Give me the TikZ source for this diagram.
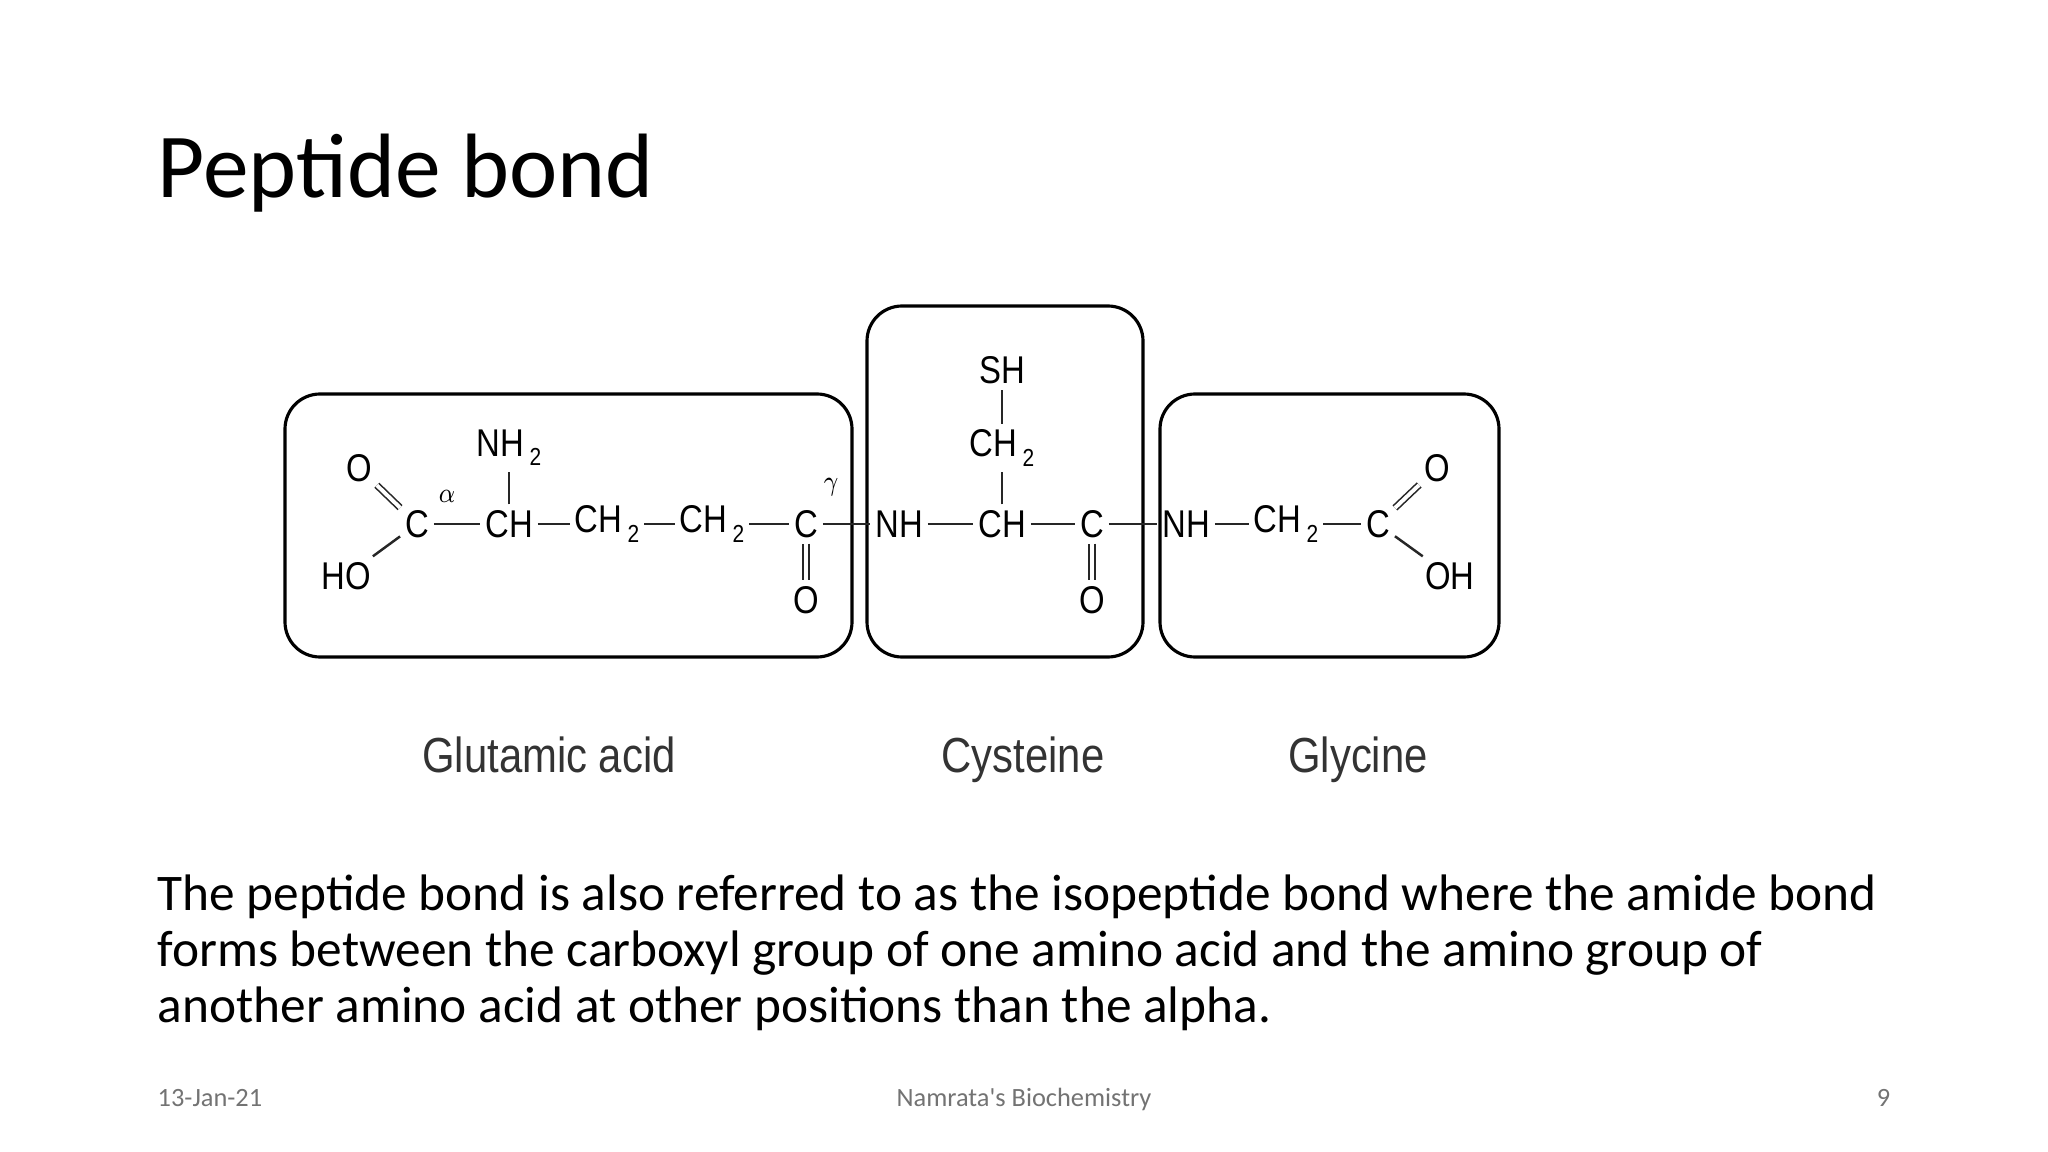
\documentclass[tikz,border=0pt]{standalone}
\usepackage{fontspec}
\setmainfont{Carlito}
\newfontfamily\chemfont{Liberation Sans}
\usetikzlibrary{positioning}
\definecolor{footgray}{rgb}{0.45,0.45,0.45}
\newcommand{\lowtwo}{\,\raisebox{-0.45ex}{\scriptsize 2}}

\tikzset{
  atom/.style={inner sep=1.5pt,font=\chemfont\fontsize{11}{12}\selectfont,xscale=0.85},
  bond/.style={line width=0.7pt,black!85},
  dbond/.style={line width=0.45pt,double,double distance=1.1pt,black!85},
  residue/.style={draw,line width=0.9pt,rounded corners=0.35cm},
  resname/.style={font=\chemfont\fontsize{14}{16}\selectfont,xscale=0.85,black!80,anchor=base},
  foot/.style={font=\fontsize{7.5}{8}\selectfont,footgray,anchor=base,inner sep=0}
}

\begin{document}
\begin{tikzpicture}[x=0.01cm,y=-0.01cm]
  \useasboundingbox[fill=white] (0,0) rectangle (2048,1152);

  % title
  \node[anchor=base west,inner sep=0,font=\fontsize{26}{30}\selectfont] (title) at (157,198) {Peptide bond};

  % residue boxes
  \draw[residue] (285,394) rectangle (852,657);
  \draw[residue] (867,306) rectangle (1143,657);
  \draw[residue] (1160,394) rectangle (1499,657);

  % main chain
  \node[atom] (c1)  at (417,524) {C};
  \node[atom] (ch1) at (509,524) {CH};
  \node[atom] (ch2a) at (607,524) {CH\lowtwo};
  \node[atom] (ch2b) at (712,524) {CH\lowtwo};
  \node[atom] (c2)  at (806,524) {C};
  \node[atom] (nh1) at (899,524) {NH};
  \node[atom] (ch3) at (1002,524) {CH};
  \node[atom] (c3)  at (1092,524) {C};
  \node[atom] (nh2) at (1186,524) {NH};
  \node[atom] (ch2c) at (1286,524) {CH\lowtwo};
  \node[atom] (c4)  at (1378,524) {C};

  % side atoms
  \node[atom] (o1)  at (359,468) {O};
  \node[atom] (ho1) at (346,576) {HO};
  \node[atom] (nh2a) at (509,448) {NH\lowtwo};
  \node[atom] (o2)  at (806,600) {O};
  \node[atom] (ch2d) at (1002,448) {CH\lowtwo};
  \node[atom] (sh)  at (1002,370) {SH};
  \node[atom] (o3)  at (1092,600) {O};
  \node[atom] (o4)  at (1437,468) {O};
  \node[atom] (oh4) at (1450,576) {OH};
  \node[atom,font=\chemfont\fontsize{8}{9}\selectfont] (alpha) at (447,496) {$\alpha$};
  \node[atom,font=\chemfont\fontsize{8}{9}\selectfont] (gamma) at (831,487) {$\gamma$};

  % bonds
  \foreach \a/\b in {c1/ch1,ch1/ch2a,ch2a/ch2b,ch2b/c2,c2/nh1,nh1/ch3,ch3/c3,c3/nh2,nh2/ch2c,ch2c/c4,
                     c1/ho1,ch1/nh2a,ch3/ch2d,ch2d/sh,c4/oh4}
    \draw[bond] (\a) -- (\b);
  \foreach \a/\b in {c1/o1,c2/o2,c3/o3,c4/o4}
    \draw[dbond] (\a) -- (\b);

  % residue names
  \node[resname] (glu) at (549,772) {Glutamic acid};
  \node[resname] (cys) at (1023,772) {Cysteine};
  \node[resname] (gly) at (1358,772) {Glycine};

  % body text
  \begin{scope}[every node/.style={anchor=base west,inner sep=0,font=\fontsize{14.6}{16}\selectfont}]
    \node (l1) at (157,910) {The peptide bond is also referred to as the isopeptide bond where the amide bond};
    \node (l2) at (157,966) {forms between the carboxyl group of one amino acid and the amino group of};
    \node (l3) at (157,1022) {another amino acid at other positions than the alpha.};
  \end{scope}

  % footer
  \node[foot,anchor=base west] (date) at (157,1106) {13-Jan-21};
  \node[foot] (src) at (1024,1106) {Namrata\textquotesingle s Biochemistry};
  \node[foot,anchor=base east] (page) at (1891,1106) {9};
\end{tikzpicture}
\end{document}
